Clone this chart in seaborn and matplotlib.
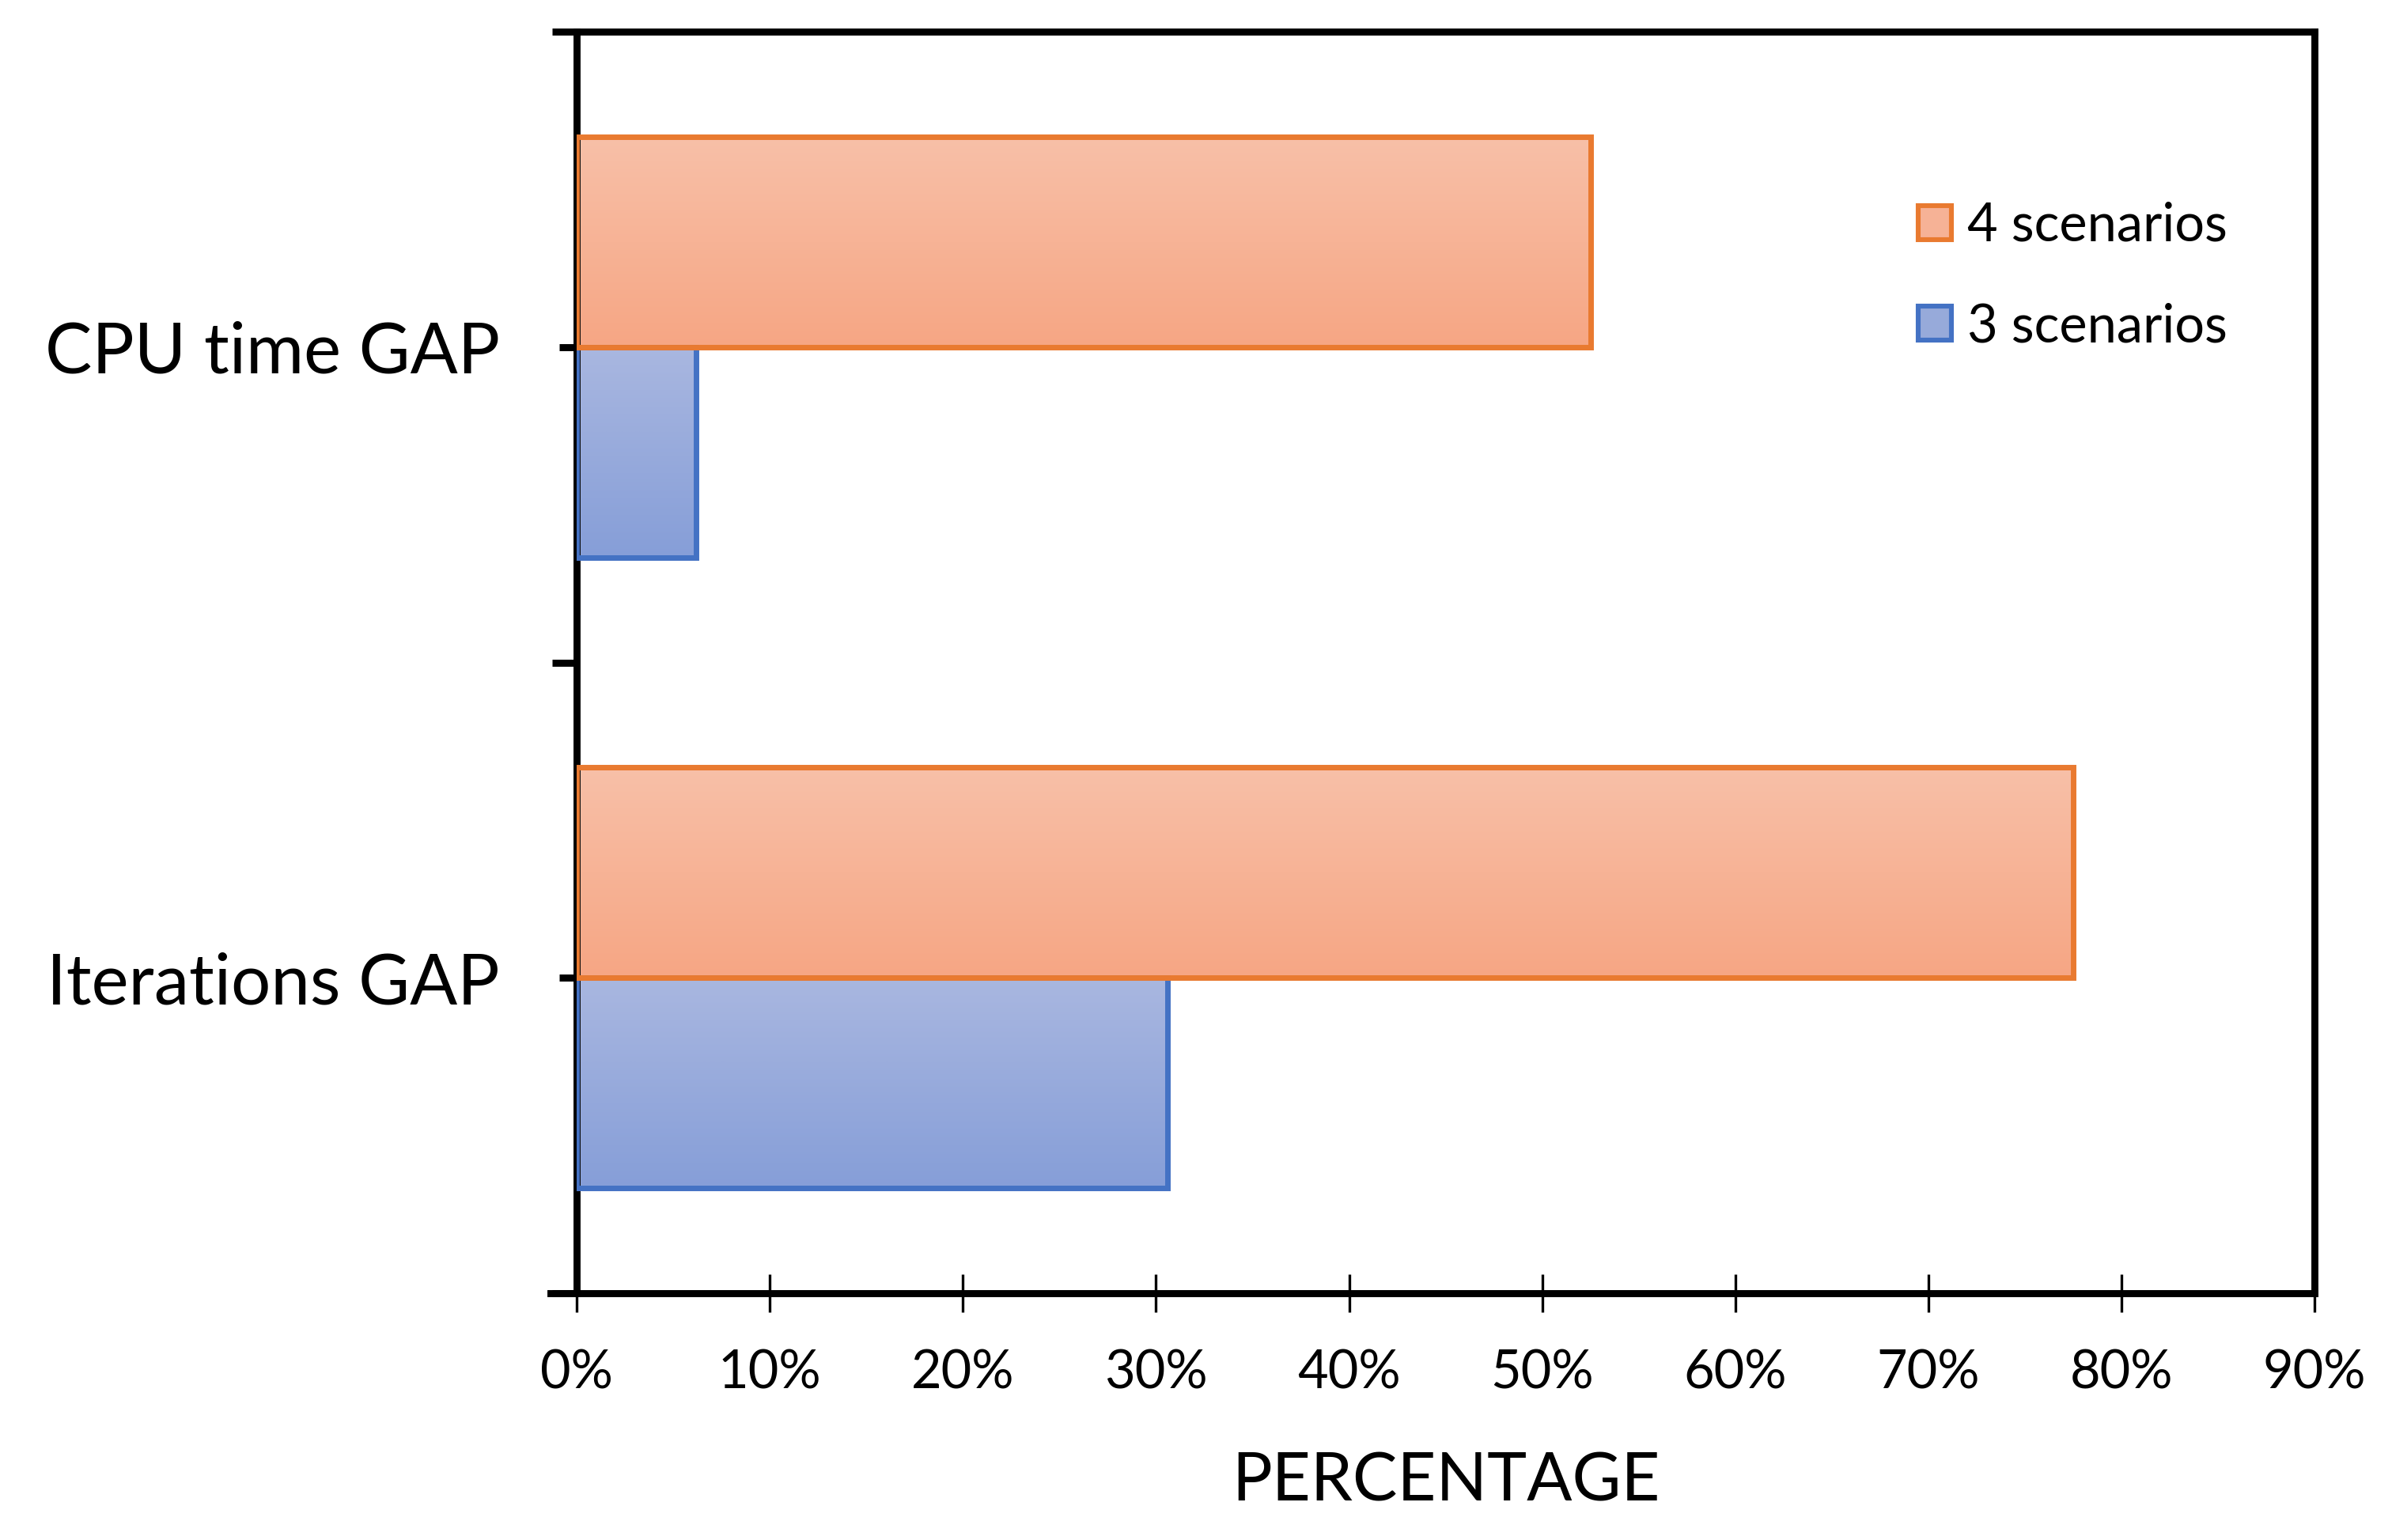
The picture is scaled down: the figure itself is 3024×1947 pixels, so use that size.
import numpy as np
import pandas as pd
import matplotlib
matplotlib.use('Agg')
import matplotlib.pyplot as plt
import seaborn as sns
from matplotlib.colors import LinearSegmentedColormap
from matplotlib.ticker import PercentFormatter
from matplotlib.patches import Patch

# data
metrics = ['CPU time GAP', 'Iterations GAP']
scenarios = ['4 scenarios', '3 scenarios']
gap_4_scenarios = [0.525, 0.775]
gap_3_scenarios = [0.062, 0.306]
x_ticks = [0.0, 0.1, 0.2, 0.3, 0.4, 0.5, 0.6, 0.7, 0.8, 0.9]

edge_colors = {'4 scenarios': '#E97A30', '3 scenarios': '#4472C4'}
fill_mid = {'4 scenarios': '#F6B296', '3 scenarios': '#97AADA'}
fill_grad = {'4 scenarios': ('#F8C0A8', '#F6A684'),
             '3 scenarios': ('#A9B7E0', '#869ED8')}


def build_frame():
    rows = []
    for m, a, b in zip(metrics, gap_4_scenarios, gap_3_scenarios):
        rows.append({'metric': m, 'scenario': '4 scenarios', 'gap': a})
        rows.append({'metric': m, 'scenario': '3 scenarios', 'gap': b})
    return pd.DataFrame(rows)


def main():
    sns.set_style('white')
    plt.rcParams['font.family'] = ['Lato', 'DejaVu Sans']
    plt.rcParams['text.color'] = 'black'
    plt.rcParams['axes.labelcolor'] = 'black'
    plt.rcParams['xtick.color'] = 'black'
    plt.rcParams['ytick.color'] = 'black'

    df = build_frame()
    fig = plt.figure(figsize=(15.12, 9.735), dpi=200)
    ax = fig.add_axes([0.2411, 0.1602, 0.7265, 0.8193])

    sns.barplot(data=df, y='metric', x='gap', hue='scenario', order=metrics,
                hue_order=scenarios, palette=fill_mid, orient='h',
                width=2 / 3, gap=0, ax=ax, legend=False, errorbar=None)

    # gradient fill inside each bar, edge kept on top
    grad = np.linspace(0, 1, 256).reshape(-1, 1)
    for i, container in enumerate(ax.containers):
        name = scenarios[i]
        cmap = LinearSegmentedColormap.from_list(name, fill_grad[name])
        for bar in container:
            x0, y0 = bar.get_x(), bar.get_y()
            w, h = bar.get_width(), bar.get_height()
            ax.imshow(grad, extent=[x0, x0 + w, y0 + h, y0], aspect='auto',
                      cmap=cmap, zorder=2, interpolation='bicubic')
            bar.set_facecolor('none')
            bar.set_edgecolor(edge_colors[name])
            bar.set_linewidth(2.5)
            bar.set_zorder(4 if i == 0 else 3)

    ax.set_xlim(0, 0.9)
    ax.set_ylim(1.5, -0.5)
    ax.set_xticks(x_ticks)
    ax.xaxis.set_major_formatter(PercentFormatter(1.0, decimals=0))
    ax.set_yticks([-0.5, 0.5, 1.5], minor=True)

    for side in ['left', 'right', 'top', 'bottom']:
        ax.spines[side].set_visible(True)
        ax.spines[side].set_color('black')
        ax.spines[side].set_linewidth(3.2)
    ax.spines['bottom'].set_bounds(-0.0135, 0.9)

    ax.tick_params(axis='y', which='major', left=True, length=8, width=3.2,
                   direction='out', pad=27, labelsize=32, color='black',
                   labelcolor='black')
    ax.tick_params(axis='y', which='minor', left=True, length=11, width=3.2,
                   direction='out', color='black')
    ax.tick_params(axis='x', which='major', bottom=True, length=17, width=1.2,
                   direction='inout', pad=17, labelsize=24, color='black',
                   labelcolor='black')

    ax.set_ylabel('')
    ax.set_xlabel('PERCENTAGE', fontsize=30.5, labelpad=24, color='black')

    handles = [Patch(facecolor=fill_mid[s], edgecolor=edge_colors[s],
                     linewidth=2.2, label=s) for s in scenarios]
    fig.legend(handles=handles, loc='center left',
               bbox_to_anchor=(0.802, 0.8205), frameon=False, fontsize=24,
               handlelength=0.62, handleheight=0.62, handletextpad=0.3,
               labelspacing=0.98, borderpad=0, borderaxespad=0,
               labelcolor='black')

    fig.savefig('out.png', dpi=200)
    plt.close(fig)


if __name__ == '__main__':
    main()
